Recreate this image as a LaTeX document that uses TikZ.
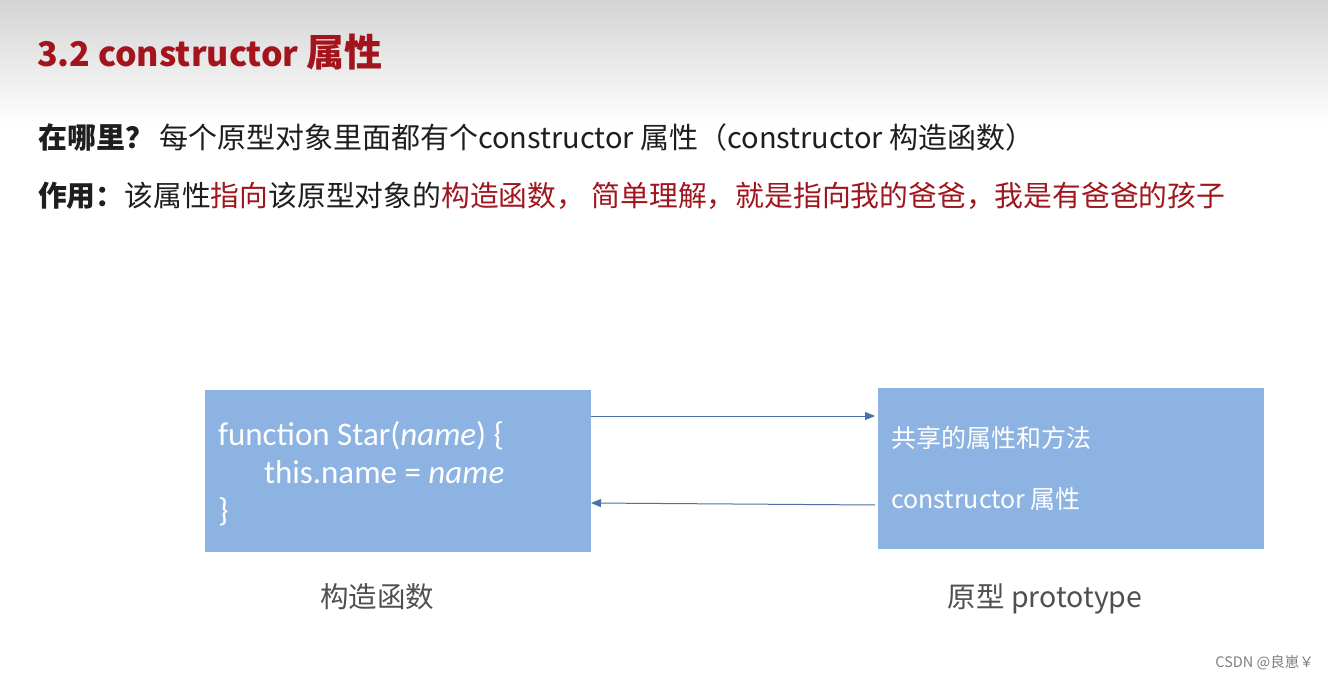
\documentclass[tikz,border=0pt]{standalone}
\usepackage{fontspec}
\setmainfont{Noto Sans CJK SC}
\newfontfamily\code{Carlito}
\usetikzlibrary{arrows.meta}
\definecolor{titlered}{HTML}{A3141C}
\definecolor{hlred}{HTML}{A0161E}
\definecolor{boxblue}{HTML}{8DB3E2}
\definecolor{arrowblue}{HTML}{4A72A6}
\definecolor{txtdark}{HTML}{1E1E1E}
\definecolor{labgray}{HTML}{505050}
\tikzset{
  txt/.style={anchor=base west, inner sep=0pt, outer sep=0pt},
  blk/.style={fill=boxblue, draw=none},
  conn/.style={draw=arrowblue, line width=1pt, -{Triangle[length=10pt,width=8pt]}},
  body/.style={txt, text=txtdark, font=\fontsize{29}{34}\selectfont},
  codetxt/.style={txt, text=white, font=\code\fontsize{33}{38}\selectfont},
  prototxt/.style={txt, text=white, font=\fontsize{25}{30}\selectfont},
  caption/.style={anchor=base, inner sep=0pt, text=labgray, font=\fontsize{28.5}{33}\selectfont},
}
\begin{document}
\begin{tikzpicture}[x=1pt,y=-1pt]
\useasboundingbox (0,0) rectangle (1328,679);
\fill[white] (0,0) rectangle (1328,679);
\shade[top color=black!17, bottom color=white] (0,0) rectangle (1328,125);
\node[txt, text=titlered, font=\fontsize{34}{40}\selectfont\bfseries] (title) at (37,67) {3.2 constructor {\fontsize{38}{40}\selectfont 属性}};
\node[body] (l1) at (38,149) {\textbf{在哪里？}\hspace{5pt}每个原型对象里面都有个constructor 属性（constructor 构造函数）};
\node[body, font=\fontsize{28.8}{34}\selectfont] (l2) at (38,207) {\textbf{作用：}该属性\textcolor{hlred}{指向}该原型对象的\textcolor{hlred}{构造函数，\ 简单理解，就是指向我的爸爸，我是有爸爸的孩子}};
\path[blk] (205,390) rectangle (591,552);
\coordinate (ctorE1) at (591,416);
\coordinate (ctorE2) at (591,503);
\path[blk] (878,388) rectangle (1264,549);
\coordinate (protoW1) at (875,416);
\coordinate (protoW2) at (875,505);
\node[codetxt] (c1) at (218,445) {function Star(\textit{name}) \{};
\node[codetxt] (c2) at (264,483) {this.name = \textit{name}};
\node[codetxt] (c3) at (218,521) {\}};
\node[prototxt] (p1) at (891,447) {共享的属性和方法};
\node[prototxt] (p2) at (891,508) {constructor 属性};
\draw[conn] (ctorE1) -- (protoW1);
\draw[conn] (protoW2) -- (ctorE2);
\node[caption] (lab1) at (377,607) {构造函数};
\node[caption] (lab2) at (1045,607) {原型 prototype};
\node[anchor=base east, inner sep=0pt, text=black!50, font=\fontsize{14.5}{17}\selectfont] (csdn) at (1314,667) {CSDN @良崽￥};
\end{tikzpicture}
\end{document}
